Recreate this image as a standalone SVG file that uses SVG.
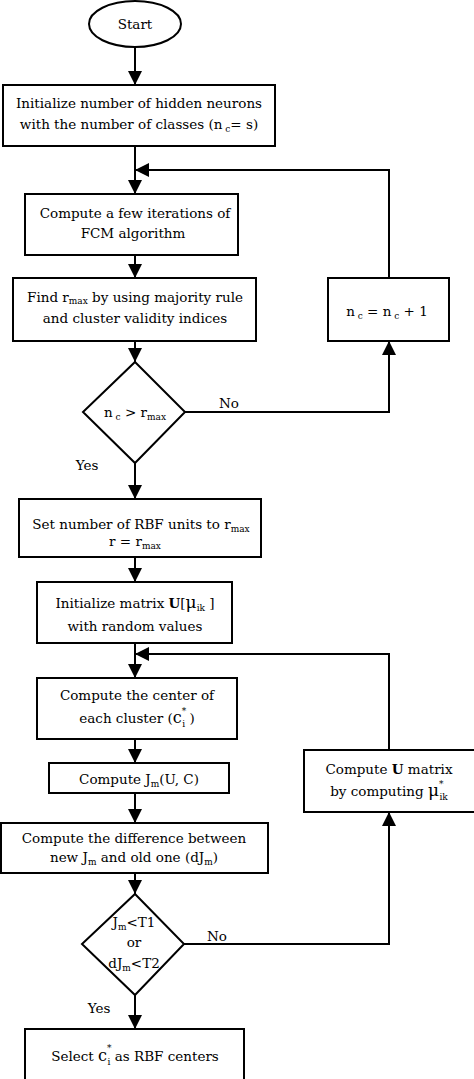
<svg xmlns="http://www.w3.org/2000/svg" width="474" height="1079" viewBox="0 0 474 1079">
<style>
.s{fill:#fff;stroke:#000;stroke-width:2}
.c{fill:none;stroke:#000;stroke-width:2}
text{font-family:"DejaVu Serif",serif;font-size:13.5px;fill:#000;text-anchor:middle}
.sub{font-size:9px}
</style>
<defs>
<marker id="a" markerUnits="userSpaceOnUse" markerWidth="14" markerHeight="14" viewBox="0 0 14 14" refX="14" refY="7" orient="auto">
<path d="M0,0 L14,7 L0,14 Z" fill="#000"/>
</marker>
</defs>
<rect width="474" height="1079" fill="#fff"/>
<g id="connectors">
<line class="c" x1="135" y1="48" x2="135" y2="85" marker-end="url(#a)"/>
<line class="c" x1="135" y1="146" x2="135" y2="194" marker-end="url(#a)"/>
<path class="c" d="M389,278 V170 H135" marker-end="url(#a)"/>
<line class="c" x1="135" y1="255" x2="135" y2="278" marker-end="url(#a)"/>
<line class="c" x1="135" y1="341" x2="135" y2="362" marker-end="url(#a)"/>
<path class="c" d="M185,412 H389 V341" marker-end="url(#a)"/>
<line class="c" x1="135" y1="463" x2="135" y2="499" marker-end="url(#a)"/>
<line class="c" x1="135" y1="557" x2="135" y2="582" marker-end="url(#a)"/>
<line class="c" x1="135" y1="643" x2="135" y2="678" marker-end="url(#a)"/>
<path class="c" d="M389,750 V654 H135" marker-end="url(#a)"/>
<line class="c" x1="135" y1="739" x2="135" y2="763" marker-end="url(#a)"/>
<line class="c" x1="135" y1="793" x2="135" y2="823" marker-end="url(#a)"/>
<line class="c" x1="135" y1="873" x2="135" y2="894" marker-end="url(#a)"/>
<path class="c" d="M184,944 H389 V812" marker-end="url(#a)"/>
<line class="c" x1="135" y1="995" x2="135" y2="1029" marker-end="url(#a)"/>
<text x="229" y="408">No</text>
<text x="87" y="470">Yes</text>
<text x="217" y="941">No</text>
<text x="99" y="1013">Yes</text>
</g>
<g id="start">
<ellipse class="s" cx="135" cy="24" rx="46" ry="23"/>
<text x="135" y="29">Start</text>
</g>
<g id="init">
<rect class="s" x="3" y="85" width="272" height="61"/>
<text x="139" y="108">Initialize number of hidden neurons</text>
<text x="139" y="129">with the number of classes (n<tspan class="sub" dy="3"> c</tspan><tspan dy="-3">= s)</tspan></text>
</g>
<g id="fcm">
<rect class="s" x="25" y="194" width="213" height="61"/>
<text x="135" y="218">Compute a few iterations of</text>
<text x="133" y="238">FCM algorithm</text>
</g>
<g id="findr">
<rect class="s" x="13" y="278" width="243" height="63"/>
<text x="135" y="302">Find r<tspan class="sub" dy="2">max</tspan><tspan dy="-2"> by using majority rule</tspan></text>
<text x="135" y="323">and cluster validity indices</text>
</g>
<g id="inc">
<rect class="s" x="328" y="278" width="121" height="63"/>
<text x="387" y="316">n<tspan class="sub" dy="3"> c</tspan><tspan dy="-3"> = n</tspan><tspan class="sub" dy="3"> c</tspan><tspan dy="-3"> + 1</tspan></text>
</g>
<g id="dec1">
<polygon class="s" points="135,362 185,412 135,463 83,412"/>
<text x="135" y="417">n<tspan class="sub" dy="3"> c</tspan><tspan dy="-3"> &gt; r</tspan><tspan class="sub" dy="3">max</tspan></text>
</g>
<g id="setrbf">
<rect class="s" x="19" y="499" width="242" height="58"/>
<text x="141" y="529">Set number of RBF units to r<tspan class="sub" dy="3">max</tspan></text>
<text x="135" y="546">r = r<tspan class="sub" dy="3">max</tspan></text>
</g>
<g id="initu">
<rect class="s" x="37" y="582" width="195" height="61"/>
<text x="135" y="608">Initialize matrix <tspan font-weight="bold">U</tspan>[<tspan font-size="17">μ</tspan><tspan class="sub" dy="3">ik</tspan><tspan dy="-3"> ]</tspan></text>
<text x="135" y="631">with random values</text>
</g>
<g id="center">
<rect class="s" x="37" y="678" width="200" height="61"/>
<text x="137" y="700">Compute the center of</text>
<text x="137" y="723">each cluster (<tspan font-size="16">c</tspan><tspan class="sub" dy="-9">*</tspan><tspan class="sub" dx="-4" dy="13">i</tspan><tspan dy="-4"> )</tspan></text>
</g>
<g id="jm">
<rect class="s" x="49" y="763" width="180" height="30"/>
<text x="139" y="784">Compute J<tspan class="sub" dy="3">m</tspan><tspan dy="-3">(U, C)</tspan></text>
</g>
<g id="diff">
<rect class="s" x="1" y="823" width="267" height="50"/>
<text x="134" y="843">Compute the difference between</text>
<text x="134" y="862">new J<tspan class="sub" dy="3">m</tspan><tspan dy="-3"> and old one (dJ</tspan><tspan class="sub" dy="3">m</tspan><tspan dy="-3">)</tspan></text>
</g>
<g id="computeu">
<rect class="s" x="304" y="750" width="172" height="62"/>
<text x="389" y="774">Compute <tspan font-weight="bold">U</tspan> matrix</text>
<text x="389" y="796">by computing <tspan font-size="17">μ</tspan><tspan class="sub" dy="-9">*</tspan><tspan class="sub" dx="-4" dy="13">ik</tspan></text>
</g>
<g id="dec2">
<polygon class="s" points="135,894 184,944 135,995 82,944"/>
<text x="134" y="927">J<tspan class="sub" dy="3">m</tspan><tspan dy="-3">&lt;T1</tspan></text>
<text x="134" y="947">or</text>
<text x="134" y="968">dJ<tspan class="sub" dy="3">m</tspan><tspan dy="-3">&lt;T2</tspan></text>
</g>
<g id="select">
<rect class="s" x="25" y="1029" width="219" height="52"/>
<text x="135" y="1061">Select <tspan font-size="16">c</tspan><tspan class="sub" dy="-10">*</tspan><tspan class="sub" dx="-4" dy="14">i</tspan><tspan dy="-4">  as RBF centers</tspan></text>
</g>
</svg>
